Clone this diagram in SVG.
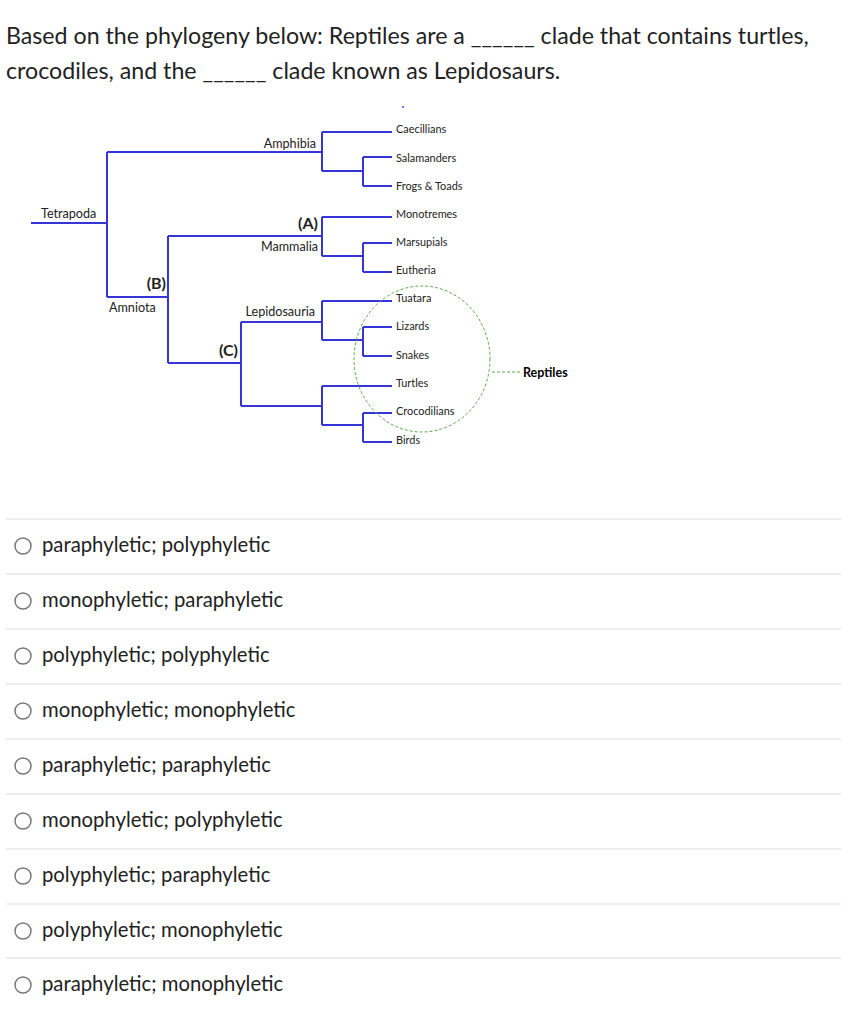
<svg xmlns="http://www.w3.org/2000/svg" width="841" height="1024" viewBox="0 0 841 1024">
<style>
.q{font-family:Lato,"Open Sans",sans-serif;font-size:23.2px;fill:#222}
.o{font-family:Lato,"Open Sans",sans-serif;font-size:20.3px;fill:#222}
.t{font-family:Lato,"Open Sans",sans-serif;font-size:10.9px;fill:#222}
.c{font-family:Lato,"Open Sans",sans-serif;font-size:12.6px;fill:#222}
.b{font-family:Lato,"Open Sans",sans-serif;font-size:16px;font-weight:bold;fill:#222}
.e{stroke:#3535d8;stroke-width:2;fill:none}
.r{fill:#fff;stroke:#777;stroke-width:1.5}
.d{stroke:#ddd;stroke-width:1}
</style>
<rect width="841" height="1024" fill="#fff"/>
<text class="q" x="6" y="44">Based on the phylogeny below: Reptiles are a ______ clade that contains turtles,</text>
<text class="q" x="6" y="79">crocodiles, and the ______ clade known as Lepidosaurs.</text>
<g id="edges">
<path class="e" d="M31 223H107M107 152V297M107 152H322M322 132V171M322 132H392M322 171H363M363 157V186M363 157H392M363 186H392"/>
<path class="e" d="M107 297H168M168 236V363M168 236H322M322 217V256M322 217H392M322 256H363M363 243V272M363 243H392M363 272H392"/>
<path class="e" d="M168 363H241M241 322V406M241 322H322M322 301V340M322 301H392M322 340H363M363 327V356M363 327H392M363 356H392"/>
<path class="e" d="M241 406H322M322 386V425M322 386H392M322 425H363M363 413V442M363 413H392M363 442H392"/>
<ellipse cx="422" cy="359" rx="68" ry="73" fill="none" stroke="#5aaa4a" stroke-width="1" stroke-dasharray="3,2"/>
<path d="M492 372H521" stroke="#5aaa4a" stroke-width="1" stroke-dasharray="3,2"/>
</g>
<g id="labels">
<circle cx="403" cy="107" r="1" fill="#35d"/>
<text class="c" x="41" y="218">Tetrapoda</text>
<text class="c" x="316" y="148" text-anchor="end">Amphibia</text>
<text class="c" x="318" y="251" text-anchor="end">Mammalia</text>
<text class="b" x="318" y="229" text-anchor="end">(A)</text>
<text class="b" x="166" y="289" text-anchor="end">(B)</text>
<text class="c" x="109" y="312">Amniota</text>
<text class="c" x="315" y="316" text-anchor="end">Lepidosauria</text>
<text class="b" x="238" y="356" text-anchor="end">(C)</text>
<text class="t" x="396" y="133">Caecillians</text>
<text class="t" x="396" y="162">Salamanders</text>
<text class="t" x="396" y="190">Frogs &amp; Toads</text>
<text class="t" x="396" y="218">Monotremes</text>
<text class="t" x="396" y="246">Marsupials</text>
<text class="t" x="396" y="274">Eutheria</text>
<text class="t" x="396" y="302">Tuatara</text>
<text class="t" x="396" y="330">Lizards</text>
<text class="t" x="396" y="359">Snakes</text>
<text class="t" x="396" y="387">Turtles</text>
<text class="t" x="396" y="415">Crocodilians</text>
<text class="t" x="396" y="444">Birds</text>
<text x="523" y="377" style="font-family:Lato,sans-serif;font-size:12.5px;font-weight:bold">Reptiles</text>
</g>
<g id="options">
<line class="d" x1="6" y1="519" x2="841" y2="519"/>
<line class="d" x1="6" y1="574" x2="841" y2="574"/>
<line class="d" x1="6" y1="629" x2="841" y2="629"/>
<line class="d" x1="6" y1="684" x2="841" y2="684"/>
<line class="d" x1="6" y1="739" x2="841" y2="739"/>
<line class="d" x1="6" y1="794" x2="841" y2="794"/>
<line class="d" x1="6" y1="849" x2="841" y2="849"/>
<line class="d" x1="6" y1="904" x2="841" y2="904"/>
<line class="d" x1="6" y1="958" x2="841" y2="958"/>
<circle class="r" cx="23" cy="546" r="8"/><text class="o" x="42" y="552">paraphyletic; polyphyletic</text>
<circle class="r" cx="23" cy="601" r="8"/><text class="o" x="42" y="607">monophyletic; paraphyletic</text>
<circle class="r" cx="23" cy="656" r="8"/><text class="o" x="42" y="662">polyphyletic; polyphyletic</text>
<circle class="r" cx="23" cy="711" r="8"/><text class="o" x="42" y="717">monophyletic; monophyletic</text>
<circle class="r" cx="23" cy="766" r="8"/><text class="o" x="42" y="772">paraphyletic; paraphyletic</text>
<circle class="r" cx="23" cy="821" r="8"/><text class="o" x="42" y="827">monophyletic; polyphyletic</text>
<circle class="r" cx="23" cy="876" r="8"/><text class="o" x="42" y="882">polyphyletic; paraphyletic</text>
<circle class="r" cx="23" cy="931" r="8"/><text class="o" x="42" y="937">polyphyletic; monophyletic</text>
<circle class="r" cx="23" cy="985" r="8"/><text class="o" x="42" y="991">paraphyletic; monophyletic</text>
</g>
</svg>
